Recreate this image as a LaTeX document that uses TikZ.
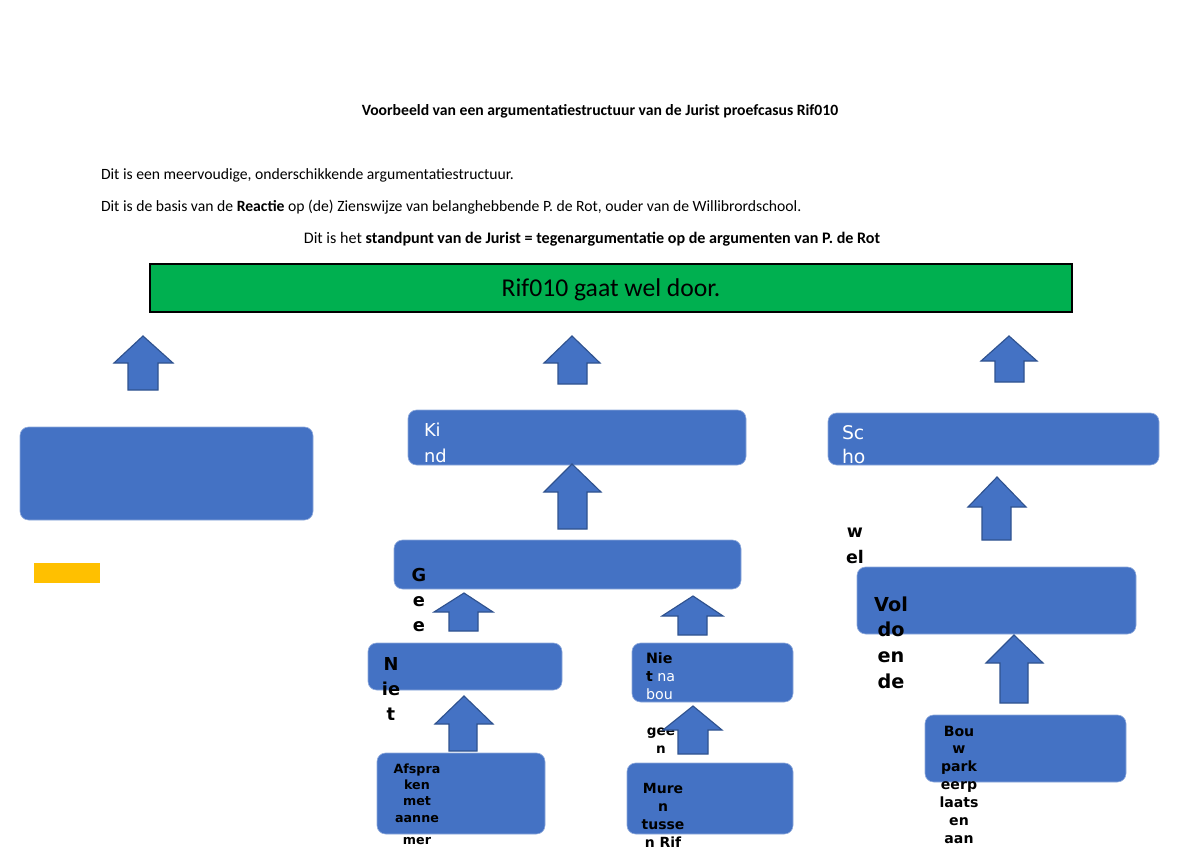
\documentclass[tikz,border=0pt]{standalone}
\usepackage{fontspec}
\setmainfont{Carlito}
\newfontfamily\boxfont{DejaVu Sans}
\definecolor{boxblue}{HTML}{4472C4}
\definecolor{arrowedge}{HTML}{2F528F}
\definecolor{boxgreen}{HTML}{00B050}
\definecolor{gold}{HTML}{FFC000}
% cx, tip y, head left, head right, base y, shaft left, shaft right, bottom y
\newcommand\blockup[8]{\draw[uparrowstyle] (#1,#2) -- (#4,#5) -- (#7,#5) -- (#7,#8) -- (#6,#8) -- (#6,#5) -- (#3,#5) -- cycle;}
\tikzset{
  uparrowstyle/.style={fill=boxblue, draw=arrowedge, line width=0.8pt, line join=miter},
  bluebox/.style={fill=boxblue, draw=boxblue!60!white, line width=0.4pt, rounded corners=6pt},
  plain/.style={inner sep=0pt, outer sep=0pt},
  wtxt/.style={plain, text=white, align=left},
  btxt/.style={plain, text=black, align=center},
}
\begin{document}
\begin{tikzpicture}[x=0.7017pt, y=-0.7017pt]
\useasboundingbox (0,0) rectangle (1200,849);
\fill[white] (0,0) rectangle (1200,849);

% header texts
\node[plain, font=\fontsize{11}{13}\selectfont\bfseries, anchor=base] (title) at (600,116)
  {Voorbeeld van een argumentatiestructuur van de Jurist proefcasus Rif010};
\node[plain, font=\fontsize{11}{13}\selectfont, anchor=base west] (l1) at (101,180)
  {Dit is een meervoudige, onderschikkende argumentatiestructuur.};
\node[plain, font=\fontsize{11}{13}\selectfont, anchor=base west] (l2) at (101,212)
  {Dit is de basis van de \textbf{Reactie} op (de) Zienswijze van belanghebbende P. de Rot, ouder van de Willibrordschool.};
\node[plain, font=\fontsize{11.3}{13}\selectfont, anchor=base] (l3) at (592,244)
  {Dit is het \textbf{standpunt van de Jurist = tegenargumentatie op de argumenten van P. de Rot}};

% main claim
\draw[fill=boxgreen, draw=black, line width=0.8pt] (150,264) rectangle (1072,312);
\node[plain, font=\fontsize{18}{21}\selectfont, anchor=base] (claim) at (611,296) {Rif010 gaat wel door.};

% boxes
\draw[bluebox] (20,427) rectangle (313,520);
\fill[gold] (34,563) rectangle (100,583);
\draw[bluebox] (408,410) rectangle (746,465);
\draw[bluebox] (394,540) rectangle (741,589);
\draw[bluebox] (368,643) rectangle (562,690);
\draw[bluebox] (632,643) rectangle (793,702);
\draw[bluebox] (377,753) rectangle (545,834);
\draw[bluebox] (627,763) rectangle (793,834);
\draw[bluebox] (828,413) rectangle (1159,465);
\draw[bluebox] (857,567) rectangle (1136,634);
\draw[bluebox] (925,715) rectangle (1126,782);

% text behind arrow
\node[btxt, font=\boxfont\fontsize{9.5}{12}\selectfont\bfseries, anchor=base] (geen) at (661,753) {gee\\n};

% arrows
\blockup{143}{336}{114}{173}{363}{128}{158}{390}
\blockup{572}{336}{544}{600}{363}{558}{587}{384}
\blockup{1009}{336}{981}{1037}{361}{995}{1024}{382}
\blockup{572}{464}{544}{601}{492}{558}{587}{529}
\blockup{464}{593}{434}{493}{612}{449}{478}{631}
\blockup{693}{596}{662}{723}{616}{678}{707}{635}
\blockup{464}{696}{435}{493}{724}{449}{477}{751}
\blockup{693}{706}{663}{722}{730}{678}{708}{754}
\blockup{997}{477}{968}{1026}{507}{982}{1011}{540}
\blockup{1014}{635}{986}{1043}{663}{1000}{1028}{703}

% box texts (base anchor = baseline of last line)
\node[wtxt, font=\boxfont\fontsize{12.5}{18.2}\selectfont, anchor=base west] (kind) at (424,462) {Ki\\nd};
\node[wtxt, font=\boxfont\fontsize{13.2}{16.8}\selectfont, anchor=base west] (scho) at (842,463) {Sc\\ho};
\node[btxt, font=\boxfont\fontsize{12.5}{17.5}\selectfont\bfseries, anchor=base] (gee) at (419,631) {G\\e\\e};
\node[btxt, font=\boxfont\fontsize{12.5}{17.5}\selectfont\bfseries, anchor=base] (niet) at (391,720) {N\\ie\\t};
\node[plain, align=left, font=\boxfont\fontsize{10}{12.3}\selectfont, anchor=base west] (nietna) at (646,699)
  {\textbf{Nie}\\\textbf{t} \textcolor{white}{na}\\\textcolor{white}{bou}};
\node[btxt, font=\boxfont\fontsize{8.9}{11.4}\selectfont\bfseries, anchor=base] (afspr) at (417,822) {Afspra\\ken\\met\\aanne};
\node[btxt, font=\boxfont\fontsize{8.9}{11.4}\selectfont\bfseries, anchor=base] (mer) at (417,844) {mer};
\node[btxt, font=\boxfont\fontsize{9.8}{12.6}\selectfont\bfseries, anchor=base] (muren) at (663,847) {Mure\\n\\tusse\\n Rif};
\node[btxt, font=\boxfont\fontsize{12.2}{18.2}\selectfont\bfseries, anchor=base] (wel) at (855,563) {w\\el};
\node[btxt, font=\boxfont\fontsize{13.5}{17.9}\selectfont\bfseries, anchor=base] (vold) at (891,688) {Vol\\do\\en\\de};
\node[btxt, font=\boxfont\fontsize{9.9}{12.5}\selectfont\bfseries, anchor=base] (bouw) at (959,843) {Bou\\w\\park\\eerp\\laats\\en\\aan};
\end{tikzpicture}
\end{document}
